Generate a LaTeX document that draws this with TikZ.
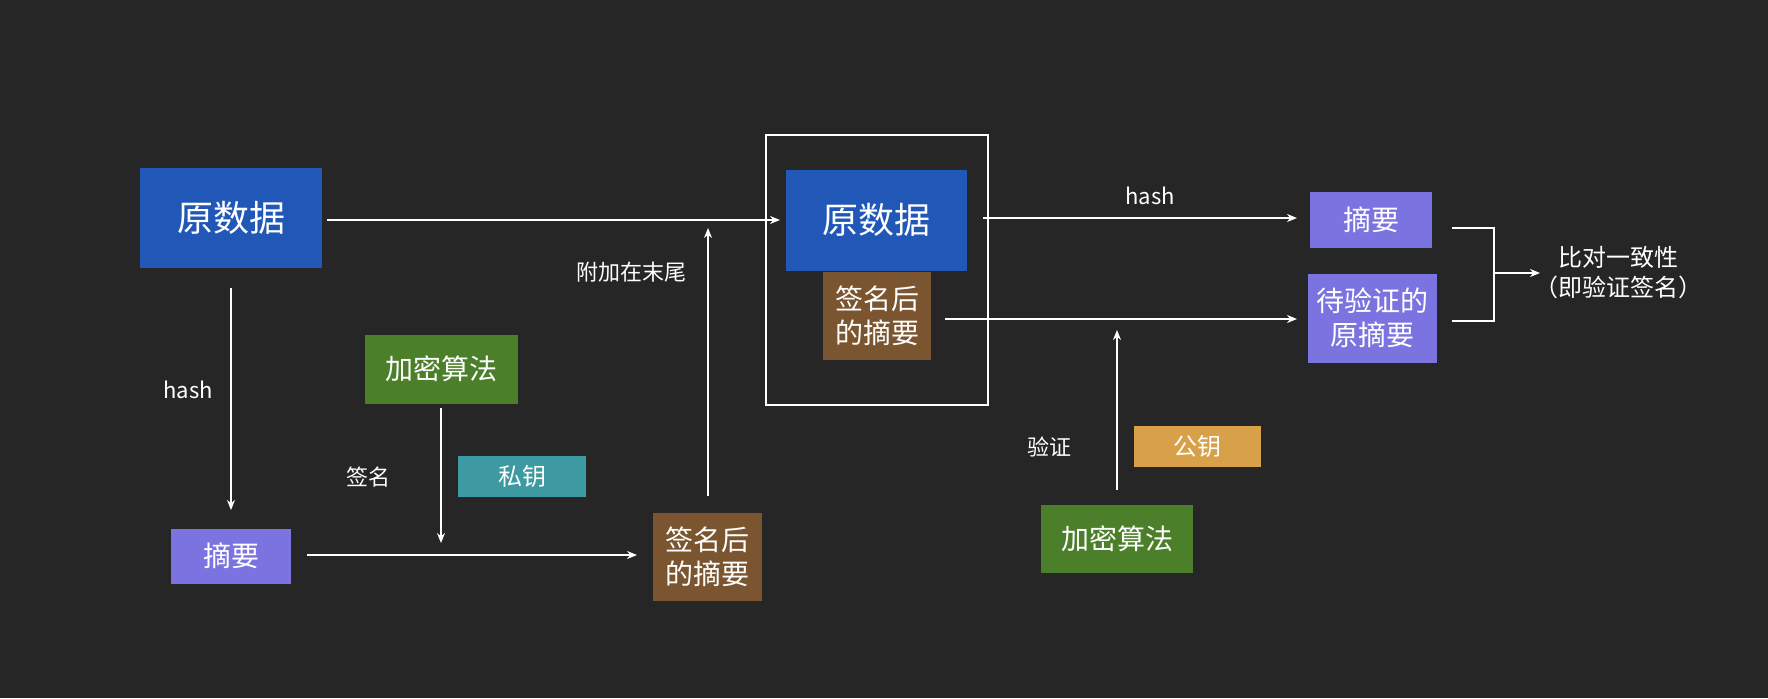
\documentclass[tikz,border=0pt]{standalone}
\usepackage{fontspec}
\setmainfont{Noto Sans CJK SC}
\usetikzlibrary{arrows.meta}
\definecolor{bg}{HTML}{262626}
\definecolor{cblue}{HTML}{2158B8}
\definecolor{cpurp}{HTML}{7B74E0}
\definecolor{cbrown}{HTML}{7A5530}
\definecolor{cgreen}{HTML}{4B7F2A}
\definecolor{cteal}{HTML}{3E9AA2}
\definecolor{corange}{HTML}{D9A04A}
\tikzset{
 bx/.style={fill=#1,text=white,inner sep=0pt,align=center,font=\fontsize{14}{17}\selectfont},
 lbl/.style={text=white,font=\fontsize{11}{13}\selectfont},
 ar/.style={draw=white,line width=0.7pt,-{Stealth[length=5pt,width=4pt]}},
 ln/.style={draw=white,line width=0.7pt}
}
\begin{document}
\begin{tikzpicture}[x=0.5pt,y=-0.5pt]
\fill[bg] (0,0) rectangle (1768,698);
\useasboundingbox (0,0) rectangle (1768,698);
% left
\node[bx=cblue,minimum width=91pt,minimum height=50pt,font=\fontsize{18}{20}\selectfont] (d1) at (231,218) {原数据};
\node[bx=cpurp,minimum width=60pt,minimum height=27.5pt] (s1) at (231,556) {摘要};
\node[bx=cgreen,minimum width=76.5pt,minimum height=34.5pt] (e1) at (441,369) {加密算法};
\node[bx=cteal,minimum width=64pt,minimum height=20.5pt,font=\fontsize{12}{14}\selectfont] (k1) at (522,476) {私钥};
\node[bx=cbrown,minimum width=54.5pt,minimum height=44pt] (g1) at (707,557) {签名后\\的摘要};
\coordinate (a1) at (231,288); \coordinate (a2) at (231,510);
\draw[ar] (a1) -- (a2);
\node[lbl] (h1) at (188,390) {hash};
\coordinate (b1) at (307,555); \coordinate (b2) at (637,555);
\draw[ar] (b1) -- (b2);
\coordinate (c1) at (441,408); \coordinate (c2) at (441,543);
\draw[ar] (c1) -- (c2);
\node[lbl] (q1) at (368,477) {签名};
\coordinate (u1) at (708,496); \coordinate (u2) at (708,228);
\draw[ar] (u1) -- (u2);
\node[lbl] (q2) at (631,272) {附加在末尾};
% center
\node[draw=white,line width=0.8pt,minimum width=111pt,minimum height=135pt,inner sep=0pt] (fr) at (877,270) {};
\node[bx=cblue,minimum width=90.5pt,minimum height=50.5pt,font=\fontsize{18}{20}\selectfont] (d2) at (876,220) {原数据};
\node[bx=cbrown,minimum width=54pt,minimum height=44pt] (g2) at (877,316) {签名后\\的摘要};
\coordinate (m1) at (327,220); \coordinate (m2) at (780,220);
\draw[ar] (m1) -- (m2);
% right
\node[bx=cpurp,minimum width=61pt,minimum height=28pt] (s2) at (1371,220) {摘要};
\node[bx=cpurp,minimum width=64.5pt,minimum height=44.5pt] (v2) at (1372,318) {待验证的\\原摘要};
\node[bx=corange,minimum width=63.5pt,minimum height=20.5pt,font=\fontsize{12}{14}\selectfont] (k2) at (1197,446) {公钥};
\node[bx=cgreen,minimum width=76pt,minimum height=34pt] (e2) at (1117,539) {加密算法};
\coordinate (n1) at (983,218); \coordinate (n2) at (1297,218);
\draw[ar] (n1) -- (n2);
\node[lbl] (h2) at (1150,196) {hash};
\coordinate (o1) at (945,319); \coordinate (o2) at (1297,319);
\draw[ar] (o1) -- (o2);
\coordinate (p1) at (1117,490); \coordinate (p2) at (1117,330);
\draw[ar] (p1) -- (p2);
\node[lbl] (q3) at (1049,447) {验证};
\coordinate (r1) at (1452,228); \coordinate (r2) at (1494,228);
\coordinate (r3) at (1494,321); \coordinate (r4) at (1452,321);
\draw[ln] (r1) -- (r2) -- (r3) -- (r4);
\coordinate (t1) at (1494,273); \coordinate (t2) at (1540,273);
\draw[ar] (t1) -- (t2);
\node[lbl,align=center,font=\fontsize{12}{15}\selectfont] (cmp) at (1618,273) {比对一致性\\（即验证签名）};
\end{tikzpicture}
\end{document}
